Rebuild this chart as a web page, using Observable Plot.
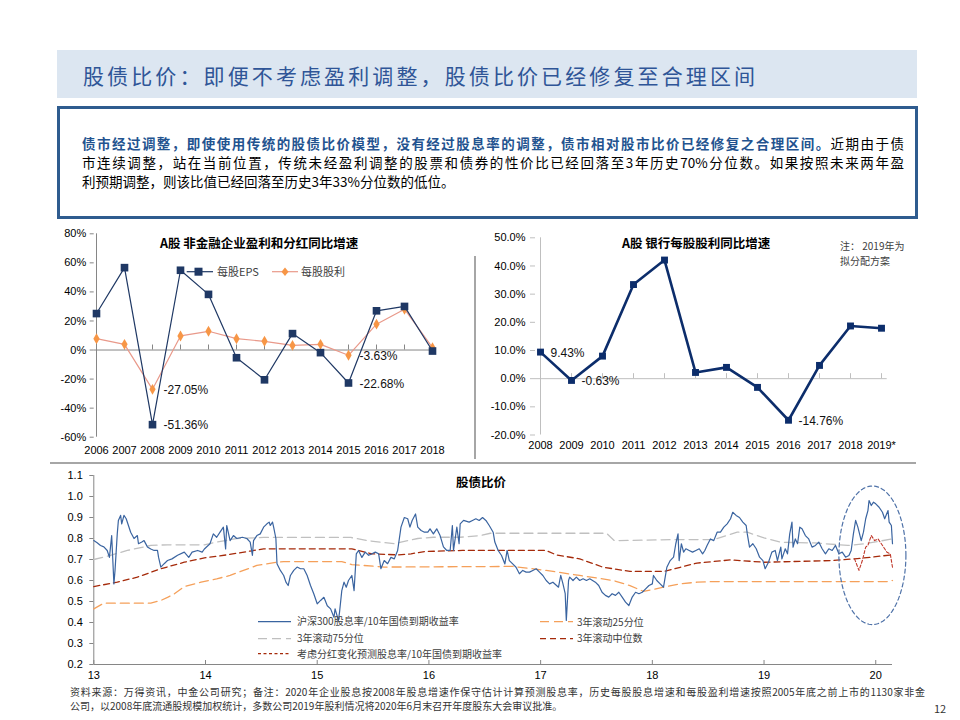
<!DOCTYPE html>
<html lang="zh-CN">
<head>
<meta charset="utf-8">
<script src="https://cdn.jsdelivr.net/npm/d3@7"></script>
<script src="https://cdn.jsdelivr.net/npm/@observablehq/plot@0.6"></script>
<style>
  html, body { margin: 0; padding: 0; background: #fff; }
  body { width: 960px; height: 720px; position: relative; overflow: hidden;
         font-family: "Noto Sans CJK SC", "Liberation Sans", sans-serif; color: #000; }
  .abs { position: absolute; }
  .titlebar { left: 57px; top: 50px; width: 860px; height: 48px; background: #dce6f1; }
  .title { left: 83px; top: 60px; width: 672px; font-size: 21px; line-height: 30px; color: #2f5597;
           text-align: justify; text-align-last: justify; }
  .box { left: 57px; top: 106px; width: 855px; height: 107px; border: 3px solid #2f5c8f; }
  .line { left: 82px; width: 822px; font-size: 13.5px; line-height: 19px; }
  .just { text-align: justify; text-align-last: justify; }
  .lead { color: #23538f; font-weight: bold; }
  .ctitle { font-size: 12.5px; font-weight: bold; line-height: 16px; white-space: nowrap; }
  .note { font-size: 10px; line-height: 12px; color: #404040; white-space: nowrap; }
  .legend { font-size: 10px; line-height: 12px; color: #404040; white-space: nowrap; }
  .legend svg { position: absolute; overflow: visible; }
  .sep { background: #a6a6a6; }
  .foot { left: 70px; width: 855px; font-size: 10px; line-height: 13px; color: #333; }
  .page { left: 934px; top: 700px; font-size: 11px; color: #333; }
</style>
</head>
<body>

<div class="abs titlebar"></div>
<div class="abs title">股债比价：即便不考虑盈利调整，股债比价已经修复至合理区间</div>

<div class="abs box"></div>
<div class="abs line just" style="top:134px"><span class="lead">债市经过调整，即使使用传统的股债比价模型，没有经过股息率的调整，债市相对股市比价已经修复之合理区间。</span>近期由于债</div>
<div class="abs line just" style="top:153px">市连续调整，站在当前位置，传统未经盈利调整的股票和债券的性价比已经回落至3年历史70%分位数。如果按照未来两年盈</div>
<div class="abs line" style="top:172px">利预期调整，则该比值已经回落至历史3年33%分位数的低位。</div>

<div id="chartA" class="abs" style="left:50px; top:225px;"></div>
<div id="chartB" class="abs" style="left:475px; top:225px;"></div>
<div id="chartC" class="abs" style="left:50px; top:465px;"></div>

<div class="abs sep" style="left:474px; top:256px; width:2px; height:203px;"></div>
<div class="abs sep" style="left:50px; top:462px; width:866px; height:2px;"></div>

<div class="abs ctitle" style="left:160px; top:235px;">A股 非金融企业盈利和分红同比增速</div>
<div class="abs ctitle" style="left:622px; top:235px;">A股 银行每股股利同比增速</div>
<div class="abs ctitle" style="left:456px; top:474px;">股债比价</div>
<div class="abs note" style="left:840px; top:239.5px;">注： 2019年为</div>
<div class="abs note" style="left:840px; top:254.5px;">拟分配方案</div>

<!-- legend of the EPS / DPS chart -->
<div class="abs legend" style="left:0; top:0;">
  <svg style="left:186px; top:271px;" width="30" height="2">
    <line x1="0.7" y1="0.7" x2="27" y2="0.7" stroke="#1f3864" stroke-width="1.2"/>
    <rect x="8.5" y="-3.3" width="8" height="8" fill="#1f3864"/>
  </svg>
  <span class="abs" style="left:217px; top:265px; font-size:11px;">每股EPS</span>
  <svg style="left:272px; top:271px;" width="30" height="2">
    <line x1="0" y1="0.7" x2="26" y2="0.7" stroke="#e9998a" stroke-width="1.2"/>
    <path d="M13,-3.5L16.5,0.7L13,4.9L9.5,0.7Z" fill="#f79646"/>
  </svg>
  <span class="abs" style="left:301px; top:265px; font-size:11px;">每股股利</span>
</div>

<!-- legend of the ratio chart -->
<div class="abs legend" style="left:0; top:0;">
  <svg style="left:258px; top:621px;" width="34" height="2"><line x1="0" y1="0.7" x2="33" y2="0.7" stroke="#3a64a0" stroke-width="1.3"/></svg>
  <span class="abs" style="left:297px; top:615px;">沪深300股息率/10年国债到期收益率</span>
  <svg style="left:258px; top:638px;" width="34" height="2"><line x1="0" y1="0.7" x2="33" y2="0.7" stroke="#bfbfbf" stroke-width="1.3" stroke-dasharray="9,5"/></svg>
  <span class="abs" style="left:297px; top:632px;">3年滚动75分位</span>
  <svg style="left:258px; top:653px;" width="34" height="2"><line x1="0" y1="0.7" x2="33" y2="0.7" stroke="#a52a0a" stroke-width="1.3" stroke-dasharray="3,2.5"/></svg>
  <span class="abs" style="left:297px; top:648px;">考虑分红变化预测股息率/10年国债到期收益率</span>
  <svg style="left:540px; top:621px;" width="34" height="2"><line x1="0" y1="0.7" x2="33" y2="0.7" stroke="#f5a05a" stroke-width="1.3" stroke-dasharray="9,5"/></svg>
  <span class="abs" style="left:577px; top:616px;">3年滚动25分位</span>
  <svg style="left:540px; top:638px;" width="34" height="2"><line x1="0" y1="0.7" x2="33" y2="0.7" stroke="#a52a0a" stroke-width="1.3" stroke-dasharray="6,4"/></svg>
  <span class="abs" style="left:577px; top:632px;">3年滚动中位数</span>
</div>

<div class="abs foot just" style="top:685px;">资料来源：万得资讯，中金公司研究；备注：2020年企业股息按2008年股息增速作保守估计计算预测股息率，历史每股股息增速和每股盈利增速按照2005年底之前上市的1130家非金</div>
<div class="abs foot" style="top:699px;">公司，以2008年底流通股规模加权统计，多数公司2019年股利情况将2020年6月末召开年度股东大会审议批准。</div>
<div class="abs page">12</div>

<script>
// ---- A股非金融企业：每股EPS与每股股利同比增速（%） ----
const yearsA = ["2006", "2007", "2008", "2009", "2010", "2011", "2012", "2013", "2014", "2015", "2016", "2017", "2018"];
const epsGrowth = [25.1, 56.7, -51.36, 54.9, 38.3, -5.3, -20.5, 11.3, -1.8, -22.68, 27.0, 30.0, -0.7];
const dpsGrowth = [7.8, 3.9, -27.05, 9.7, 12.9, 7.8, 6.0, 3.2, 3.9, -3.63, 17.8, 28.1, 1.6];
const labeledYearsA = ["2008", "2015"];
const ticksA = [-60, -40, -20, 0, 20, 40, 60, 80];

// ---- A股银行每股股利同比增速（%），2019为拟分配方案 ----
const yearsB = ["2008", "2009", "2010", "2011", "2012", "2013", "2014", "2015", "2016", "2017", "2018", "2019*"];
const bankDpsGrowth = [9.43, -0.63, 8.0, 33.4, 42.1, 2.2, 4.0, -3.1, -14.76, 4.7, 18.7, 17.9];
const labeledYearsB = ["2008", "2009", "2016"];
const ticksB = [-20, -10, 0, 10, 20, 30, 40, 50];

// ---- 股债比价：[年份(两位数，含年内进度), 比值] ----
const ratioYears = [13, 14, 15, 16, 17, 18, 19, 20];
const ratioTicks = [0.2, 0.3, 0.4, 0.5, 0.6, 0.7, 0.8, 0.9, 1.0, 1.1];

// 沪深300股息率/10年国债到期收益率
const dividendYieldRatio = [
  [13.00,0.79],[13.03,0.78],[13.06,0.767],[13.09,0.76],[13.12,0.743],[13.14,0.71],[13.16,0.814],[13.18,0.584],
  [13.19,0.648],[13.21,0.822],[13.22,0.886],[13.24,0.91],[13.25,0.87],[13.27,0.91],[13.29,0.894],[13.31,0.862],
  [13.33,0.83],[13.36,0.80],[13.39,0.814],[13.40,0.775],[13.43,0.783],[13.45,0.79],[13.48,0.76],[13.51,0.75],
  [13.54,0.743],[13.57,0.743],[13.58,0.71],[13.60,0.664],[13.63,0.68],[13.66,0.695],[13.70,0.703],[13.75,0.72],
  [13.81,0.735],[13.85,0.71],[13.88,0.735],[13.93,0.743],[13.97,0.735],[13.99,0.75],[14.04,0.775],[14.07,0.822],
  [14.10,0.806],[14.13,0.83],[14.16,0.854],[14.18,0.75],[14.19,0.862],[14.22,0.79],[14.25,0.814],[14.28,0.80],
  [14.33,0.806],[14.37,0.80],[14.40,0.783],[14.42,0.72],[14.43,0.79],[14.46,0.814],[14.49,0.822],[14.52,0.854],
  [14.55,0.87],[14.57,0.878],[14.58,0.862],[14.60,0.878],[14.61,0.854],[14.63,0.80],[14.64,0.68],[14.67,0.648],
  [14.70,0.624],[14.72,0.592],[14.74,0.576],[14.76,0.624],[14.79,0.648],[14.82,0.664],[14.85,0.656],[14.88,0.656],
  [14.91,0.624],[14.94,0.576],[14.97,0.536],[15.00,0.489],[15.03,0.505],[15.06,0.52],[15.09,0.48],[15.12,0.465],
  [15.15,0.425],[15.16,0.465],[15.19,0.41],[15.20,0.45],[15.22,0.552],[15.24,0.592],[15.26,0.568],[15.28,0.60],
  [15.31,0.624],[15.33,0.552],[15.35,0.727],[15.37,0.743],[15.40,0.71],[15.43,0.735],[15.46,0.72],[15.49,0.727],
  [15.52,0.735],[15.55,0.727],[15.57,0.656],[15.60,0.695],[15.63,0.68],[15.66,0.71],[15.69,0.703],[15.72,0.743],
  [15.75,0.854],[15.78,0.90],[15.81,0.894],[15.83,0.854],[15.85,0.886],[15.88,0.917],[15.90,0.854],[15.93,0.838],
  [15.96,0.83],[15.99,0.83],[16.01,0.846],[16.04,0.822],[16.07,0.846],[16.10,0.814],[16.13,0.76],[16.16,0.743],
  [16.19,0.743],[16.21,0.862],[16.22,0.743],[16.25,0.854],[16.27,0.775],[16.28,0.87],[16.31,0.886],[16.36,0.878],
  [16.39,0.886],[16.42,0.894],[16.45,0.886],[16.48,0.90],[16.51,0.886],[16.54,0.862],[16.575,0.83],[16.59,0.783],
  [16.62,0.743],[16.65,0.719],[16.68,0.679],[16.70,0.743],[16.72,0.695],[16.75,0.679],[16.78,0.663],[16.81,0.632],
  [16.84,0.648],[16.87,0.64],[16.90,0.64],[16.93,0.648],[16.96,0.656],[16.99,0.64],[17.02,0.624],[17.05,0.60],
  [17.08,0.584],[17.11,0.592],[17.16,0.568],[17.18,0.624],[17.20,0.584],[17.22,0.537],[17.23,0.41],[17.25,0.60],
  [17.26,0.616],[17.29,0.60],[17.32,0.616],[17.35,0.60],[17.38,0.608],[17.41,0.60],[17.44,0.608],[17.49,0.592],
  [17.52,0.576],[17.55,0.544],[17.58,0.529],[17.61,0.521],[17.64,0.537],[17.67,0.529],[17.70,0.544],[17.73,0.521],
  [17.76,0.497],[17.79,0.481],[17.82,0.521],[17.85,0.544],[17.88,0.537],[17.91,0.544],[17.94,0.56],[17.97,0.576],
  [18.00,0.584],[18.01,0.624],[18.04,0.60],[18.07,0.584],[18.10,0.568],[18.12,0.632],[18.13,0.663],[18.16,0.695],
  [18.19,0.711],[18.21,0.775],[18.23,0.822],[18.24,0.695],[18.26,0.775],[18.28,0.735],[18.30,0.751],[18.33,0.743],
  [18.36,0.735],[18.39,0.743],[18.42,0.751],[18.45,0.727],[18.47,0.743],[18.49,0.767],[18.52,0.798],[18.55,0.79],
  [18.58,0.83],[18.61,0.83],[18.64,0.854],[18.67,0.87],[18.70,0.894],[18.72,0.925],[18.75,0.91],[18.78,0.90],
  [18.81,0.878],[18.84,0.862],[18.85,0.822],[18.87,0.759],[18.90,0.775],[18.93,0.751],[18.96,0.711],[18.99,0.695],
  [19.01,0.656],[19.04,0.687],[19.07,0.735],[19.10,0.743],[19.12,0.695],[19.15,0.759],[19.16,0.703],[19.19,0.751],
  [19.21,0.727],[19.23,0.822],[19.25,0.878],[19.26,0.759],[19.28,0.798],[19.30,0.775],[19.32,0.854],[19.34,0.846],
  [19.37,0.814],[19.40,0.798],[19.43,0.759],[19.46,0.767],[19.49,0.783],[19.52,0.751],[19.55,0.727],[19.58,0.751],
  [19.61,0.743],[19.64,0.767],[19.67,0.727],[19.70,0.735],[19.73,0.711],[19.76,0.719],[19.78,0.743],[19.80,0.822],
  [19.82,0.886],[19.84,0.854],[19.87,0.79],[19.89,0.83],[19.91,0.894],[19.93,0.933],[19.94,0.981],[19.96,0.957],
  [19.98,0.973],[20.00,0.965],[20.03,0.949],[20.06,0.925],[20.08,0.894],[20.11,0.933],[20.12,0.878],[20.14,0.862],
  [20.15,0.775]
];

// 3年滚动75分位
const rolling75 = [
  [13.00,0.70],[13.15,0.72],[13.30,0.743],[13.51,0.767],[13.66,0.77],[13.99,0.77],[14.10,0.783],[14.28,0.80],
  [14.52,0.805],[15.30,0.805],[15.45,0.79],[15.69,0.775],[15.75,0.783],[15.90,0.80],[16.04,0.806],[16.28,0.806],
  [16.46,0.814],[16.55,0.825],[17.59,0.825],[17.66,0.79],[18.25,0.795],[18.55,0.795],[18.76,0.83],[18.85,0.83],
  [19.00,0.803],[19.15,0.782],[19.45,0.779],[19.75,0.767],[19.90,0.775],[20.15,0.798]
];

// 3年滚动中位数
const rollingMedian = [
  [13.00,0.571],[13.21,0.592],[13.39,0.616],[13.60,0.656],[13.81,0.687],[13.99,0.708],[14.19,0.722],[14.40,0.74],
  [14.52,0.751],[15.31,0.751],[15.37,0.743],[15.49,0.727],[15.72,0.722],[15.84,0.727],[15.96,0.738],[16.30,0.743],
  [17.05,0.743],[17.14,0.722],[17.35,0.703],[17.56,0.663],[17.65,0.656],[17.80,0.643],[18.10,0.643],[18.25,0.663],
  [18.40,0.683],[18.70,0.698],[19.00,0.687],[19.60,0.695],[19.81,0.703],[19.96,0.711],[20.14,0.722]
];

// 3年滚动25分位
const rolling25 = [
  [13.00,0.465],[13.09,0.492],[13.51,0.492],[13.60,0.505],[13.66,0.52],[13.72,0.536],[13.81,0.571],[13.96,0.592],
  [14.10,0.608],[14.22,0.624],[14.34,0.648],[14.46,0.672],[14.64,0.687],[14.70,0.69],[15.22,0.69],[15.31,0.676],
  [15.60,0.664],[16.75,0.667],[17.05,0.648],[17.35,0.624],[17.65,0.60],[17.80,0.576],[17.92,0.548],[18.10,0.568],
  [18.25,0.584],[18.40,0.592],[18.55,0.595],[20.12,0.595],[20.15,0.60]
];

// 考虑分红变化预测股息率/10年国债到期收益率
const forecastRatio = [
  [19.81,0.703],[19.85,0.648],[19.88,0.695],[19.91,0.759],[19.93,0.767],[19.96,0.814],[19.99,0.79],[20.02,0.798],
  [20.05,0.775],[20.08,0.751],[20.10,0.735],[20.13,0.727],[20.15,0.663]
];

// 虚线椭圆圈出的近期区间（年份、比值单位）
const focusCenter = {t: 19.97, v: 0.72};
const focusRadius = {t: 0.30, v: 0.33};

const axisGray = "#868686";
const baseStyle = {
  background: "transparent",
  fontFamily: "'Liberation Sans', Arial, sans-serif",
  fontSize: "11px",
  color: "#000",
  overflow: "visible"
};

// ---------- Chart A ----------
const rowsA = yearsA.map((year, i) => ({year, eps: epsGrowth[i], dps: dpsGrowth[i]}));
const labelRowsA = rowsA.filter(d => labeledYearsA.includes(d.year));
const pct2 = v => v.toFixed(2) + "%";

const chartA = Plot.plot({
  width: 425, height: 235,
  marginLeft: 43.7, marginRight: 41, marginTop: 8.3, marginBottom: 23.3,
  x: {type: "point", domain: yearsA, padding: 0},
  y: {domain: [-60, 80]},
  style: baseStyle,
  marks: [
    Plot.ruleX([yearsA[0]], {stroke: axisGray}),
    Plot.ruleY([0], {stroke: axisGray}),
    Plot.ruleX(yearsA, {x: d => d, y1: 0, y2: 0, insetTop: -5, stroke: axisGray}),
    Plot.axisY({ticks: ticksA, tickFormat: d => d + "%", tickSize: 4, tickPadding: 4, stroke: axisGray, fill: "#000", label: null}),
    Plot.axisX({tickSize: 0, tickPadding: 9, fill: "#000", label: null}),
    Plot.line(rowsA, {x: "year", y: "dps", stroke: "#e9998a", strokeWidth: 1.2}),
    Plot.dot(rowsA, {x: "year", y: "dps", symbol: "diamond", r: 3.3, fill: "#f79646"}),
    Plot.line(rowsA, {x: "year", y: "eps", stroke: "#1f3864", strokeWidth: 1.2}),
    Plot.dot(rowsA, {x: "year", y: "eps", symbol: "square", r: 4.3, fill: "#1f3864"}),
    Plot.text(labelRowsA, {x: "year", y: "eps", text: d => pct2(d.eps), dx: 11, dy: 1, textAnchor: "start", fontSize: 12, fill: "#111"}),
    Plot.text(labelRowsA, {x: "year", y: "dps", text: d => pct2(d.dps), dx: 11, dy: 1, textAnchor: "start", fontSize: 12, fill: "#111"})
  ]
});
document.getElementById("chartA").append(chartA);

// ---------- Chart B ----------
const rowsB = yearsB.map((year, i) => ({year, v: bankDpsGrowth[i]}));
const labelRowsB = rowsB.filter(d => labeledYearsB.includes(d.year));
const bGray = "#bfbfbf";

const chartB = Plot.plot({
  width: 450, height: 235,
  marginLeft: 60, marginRight: 38.3, marginTop: 12.3, marginBottom: 25.5,
  x: {type: "point", domain: yearsB, padding: 0},
  y: {domain: [-20, 50]},
  style: baseStyle,
  marks: [
    Plot.ruleX([yearsB[0]], {stroke: bGray}),
    Plot.ruleY([0], {stroke: bGray}),
    Plot.ruleX(yearsB, {x: d => d, y1: 0, y2: 0, insetTop: -5, stroke: bGray}),
    Plot.axisY({ticks: ticksB, tickFormat: d => d.toFixed(1) + "%", tickSize: 5, tickPadding: 5, stroke: bGray, fill: "#000", label: null}),
    Plot.axisX({tickSize: 0, tickPadding: 6.5, fill: "#000", label: null}),
    Plot.line(rowsB, {x: "year", y: "v", stroke: "#0c2d6b", strokeWidth: 2.6}),
    Plot.dot(rowsB, {x: "year", y: "v", symbol: "square", r: 3.9, fill: "#0c2d6b"}),
    Plot.text(labelRowsB, {x: "year", y: "v", text: d => pct2(d.v), dx: 10, dy: 1, textAnchor: "start", fontSize: 12, fill: "#111"})
  ]
});
document.getElementById("chartB").append(chartB);

// ---------- Chart C ----------
const asRows = arr => arr.map(([t, v]) => ({t, v}));
const ellipse = d3.range(0, 361, 3).map(a => {
  const r = a * Math.PI / 180;
  return {t: focusCenter.t + focusRadius.t * Math.cos(r), v: focusCenter.v + focusRadius.v * Math.sin(r)};
});

const chartC = Plot.plot({
  width: 860, height: 215,
  marginLeft: 43.3, marginRight: 18, marginTop: 10, marginBottom: 16,
  x: {domain: [13, 20.15]},
  y: {domain: [0.2, 1.1]},
  style: baseStyle,
  marks: [
    Plot.ruleX([ratioYears[0]], {stroke: axisGray}),
    Plot.ruleY([ratioTicks[0]], {stroke: axisGray}),
    Plot.ruleX(ratioYears, {x: d => d, y1: ratioTicks[0], y2: ratioTicks[0], insetTop: -4, stroke: axisGray}),
    Plot.axisY({ticks: ratioTicks, tickFormat: d => d.toFixed(1), tickSize: 4, tickPadding: 7, stroke: axisGray, fill: "#000", label: null}),
    Plot.axisX({ticks: ratioYears, tickFormat: d => String(d), tickSize: 0, tickPadding: 7, fill: "#000", label: null}),
    Plot.line(asRows(rolling75), {x: "t", y: "v", stroke: "#c0c0c0", strokeWidth: 1.3, strokeDasharray: "9,5"}),
    Plot.line(asRows(rolling25), {x: "t", y: "v", stroke: "#f5a05a", strokeWidth: 1.3, strokeDasharray: "9,5"}),
    Plot.line(asRows(rollingMedian), {x: "t", y: "v", stroke: "#a52a0a", strokeWidth: 1.3, strokeDasharray: "6,4"}),
    Plot.line(asRows(dividendYieldRatio), {x: "t", y: "v", stroke: "#3a64a0", strokeWidth: 1.2}),
    Plot.line(asRows(forecastRatio), {x: "t", y: "v", stroke: "#c0392b", strokeWidth: 1.1, strokeDasharray: "3,2"}),
    Plot.line(ellipse, {x: "t", y: "v", stroke: "#4f72a8", strokeWidth: 1.2, strokeDasharray: "4,3"})
  ]
});
document.getElementById("chartC").append(chartC);
</script>
</body>
</html>
